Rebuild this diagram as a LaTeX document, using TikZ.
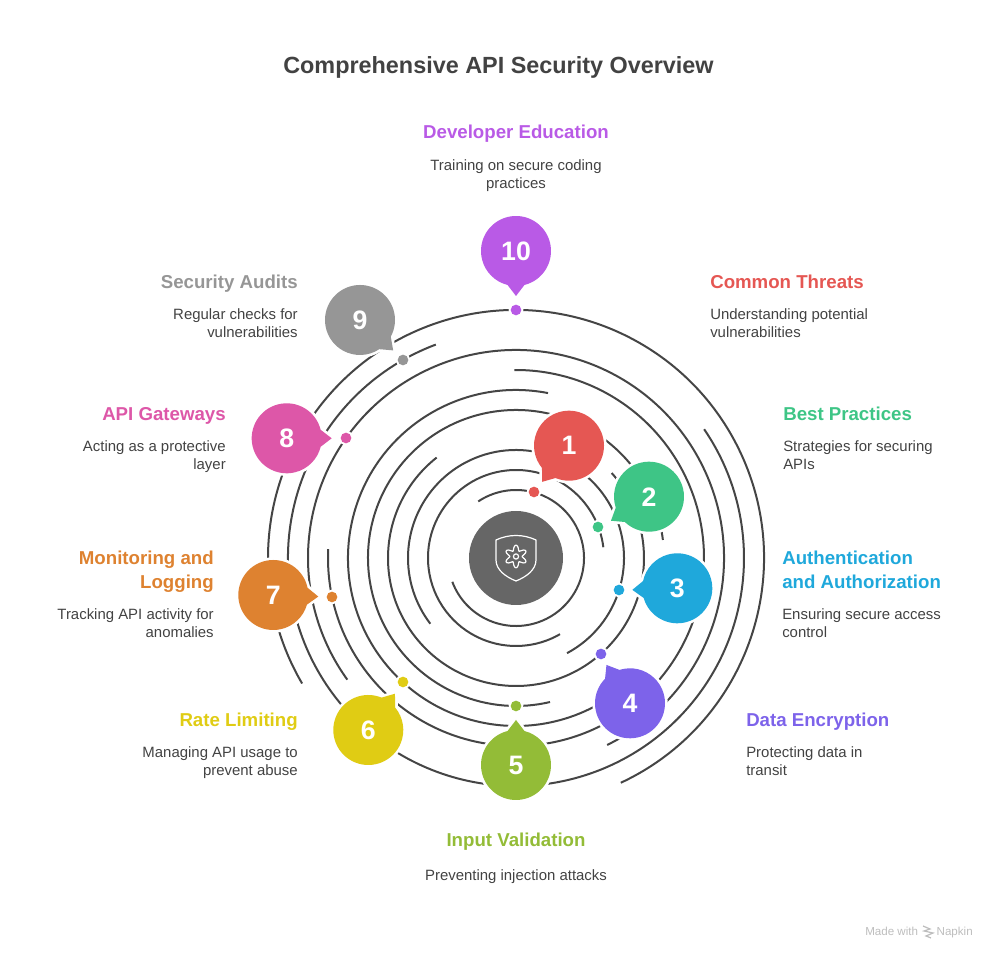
\documentclass[tikz,border=0pt]{standalone}
\usepackage{fontspec}
\setmainfont{Liberation Sans}
\usetikzlibrary{calc}

\definecolor{inkgray}{HTML}{424242}
\definecolor{ringgray}{HTML}{454545}
\definecolor{hubgray}{HTML}{666666}
\definecolor{markgray}{HTML}{BDBDBD}
\definecolor{threatred}{HTML}{E55753}
\definecolor{bestgreen}{HTML}{3EC586}
\definecolor{authblue}{HTML}{1FA8DB}
\definecolor{cryptviolet}{HTML}{7D63EA}
\definecolor{inputgreen}{HTML}{93BC37}
\definecolor{rateyellow}{HTML}{E0CC14}
\definecolor{logorange}{HTML}{DE8230}
\definecolor{gatepink}{HTML}{DD57A8}
\definecolor{auditgray}{HTML}{969696}
\definecolor{eduviolet}{HTML}{B95AE6}

\begin{document}
\begin{tikzpicture}[
    x=0.75pt, y=0.75pt,
    ring/.style={draw=ringgray, line width=1.5pt},
    bubble/.style={preaction={draw=white, line width=4pt}},
    num/.style={text=white, inner sep=0pt, font=\fontsize{20}{24}\selectfont\bfseries},
    dotnode/.style={circle, inner sep=0pt, minimum size=8pt, preaction={draw=white, line width=3pt}},
    icon/.style={draw=white, line width=0.9pt, line join=round},
    head/.style={inner sep=0pt, text height=10pt, text depth=0pt, font=\fontsize{14}{18}\selectfont\bfseries},
    body/.style={inner sep=0pt, text=inkgray, text height=8pt, text depth=0pt, font=\fontsize{11.2}{13.5}\selectfont}
  ]
\useasboundingbox (0,0) rectangle (997,960);

% Title
\node[inner sep=0pt, text=inkgray, text height=13pt, text depth=0pt, font=\fontsize{17.55}{22}\selectfont\bfseries] (title) at (498.5,895) {Comprehensive API Security Overview};

% Rings, radius / start / end
\coordinate (ctr) at (516,402);
\foreach \rr/\a/\b in {68/200.5/483.7, 88/7/300, 108/-61.8/217.5, 128/128.3/401.6, 148/7/283.3,
    168/79/315, 188/177.3/450.5, 208/-64/215.8, 228/110.6/394.4, 248/-65/210.4} {
    \draw[ring] (ctr) ++(\a:\rr) arc[start angle=\a, end angle=\b, radius=\rr];
}

% Dots on the rings
\foreach \n/\col/\dx/\dy in {1/threatred/534/468, 2/bestgreen/598/433, 3/authblue/619/370,
    4/cryptviolet/601/306, 5/inputgreen/516/254, 6/rateyellow/403/278, 7/logorange/332/363,
    8/gatepink/346/522, 9/auditgray/403/600, 10/eduviolet/516/650} {
    \node[dotnode, fill=\col] (d\n) at (\dx,\dy) {};
}

% Numbered bubbles with their tails
\foreach \n/\col/\bx/\by/\ta in {1/threatred/569/514.3/233.4, 2/bestgreen/649/463.3/212.3,
    3/authblue/677.3/371.7/182, 4/cryptviolet/630/256.7/121.5, 5/inputgreen/516/195/90,
    6/rateyellow/368.3/230/53.7, 7/logorange/273.3/365/-2, 8/gatepink/286.7/521.7/0,
    9/auditgray/360/640/-42.5, 10/eduviolet/516/709/270} {
    \path[bubble, fill=\col] ($(\bx,\by)+(\ta+14:35)$) arc[start angle=\ta+14, delta angle=332, radius=35]
        -- ($(\bx,\by)+(\ta:45)$) -- cycle;
    \node[num] (b\n) at (\bx,\by) {\n};
}

% Hub with shield and gear
\node[circle, fill=hubgray, inner sep=0pt, minimum size=70.5pt] (hub) at (ctr) {};
\draw[icon] (496,420) .. controls (509,426) and (523,426) .. (536,420) -- (536,400)
    .. controls (536,390) and (526,383) .. (516,379) .. controls (506,383) and (496,390) .. (496,400) -- cycle;
\draw[icon, shift={(516,403.5)}] plot[domain=0:360, samples=73, smooth] ({90+\x}:{8.7+2.6*cos(6*\x)}) -- cycle;
\draw[icon] (516,403.5) circle (2.6);

% Labels on the right
\node[head, text=threatred, anchor=west] (h1) at (710,678) {Common Threats};
\node[body, anchor=west, align=left] (t1) at (710,628) {Understanding potential\\vulnerabilities};
\node[head, text=bestgreen, anchor=west] (h2) at (783,546) {Best Practices};
\node[body, anchor=west, align=left] (t2) at (783,496) {Strategies for securing\\APIs};
\node[head, text=authblue, anchor=west, align=left] (h3) at (782,378) {Authentication\\and Authorization};
\node[body, anchor=west, align=left] (t3) at (782,328) {Ensuring secure access\\control};
\node[head, text=cryptviolet, anchor=west] (h4) at (746,240) {Data Encryption};
\node[body, anchor=west, align=left] (t4) at (746,190) {Protecting data in\\transit};

% Labels at the bottom and top
\node[head, text=inputgreen] (h5) at (516,120) {Input Validation};
\node[body] (t5) at (516,85) {Preventing injection attacks};
\node[head, text=eduviolet] (h10) at (516,828) {Developer Education};
\node[body, align=center] (t10) at (516,777) {Training on secure coding\\practices};

% Labels on the left
\node[head, text=rateyellow, anchor=east] (h6) at (298,240) {Rate Limiting};
\node[body, anchor=east, align=right] (t6) at (298,190) {Managing API usage to\\prevent abuse};
\node[head, text=logorange, anchor=east, align=right] (h7) at (214,378) {Monitoring and\\Logging};
\node[body, anchor=east, align=right] (t7) at (214,328) {Tracking API activity for\\anomalies};
\node[head, text=gatepink, anchor=east] (h8) at (226,546) {API Gateways};
\node[body, anchor=east, align=right] (t8) at (226,496) {Acting as a protective\\layer};
\node[head, text=auditgray, anchor=east] (h9) at (298,678) {Security Audits};
\node[body, anchor=east, align=right] (t9) at (298,628) {Regular checks for\\vulnerabilities};

% Watermark
\node[inner sep=0pt, anchor=west, text=markgray, text height=6pt, text depth=0pt, font=\fontsize{8.7}{10}\selectfont] (made) at (865,28) {Made with};
\node[inner sep=0pt, anchor=east, text=markgray, text height=6pt, text depth=0pt, font=\fontsize{8.7}{10}\selectfont] (napkin) at (973,28) {Napkin};
\draw[markgray, line width=0.9pt] (923,34) -- (930,31) -- (924,29) -- (933,27) -- (926,24) -- (931,22);
\end{tikzpicture}
\end{document}
